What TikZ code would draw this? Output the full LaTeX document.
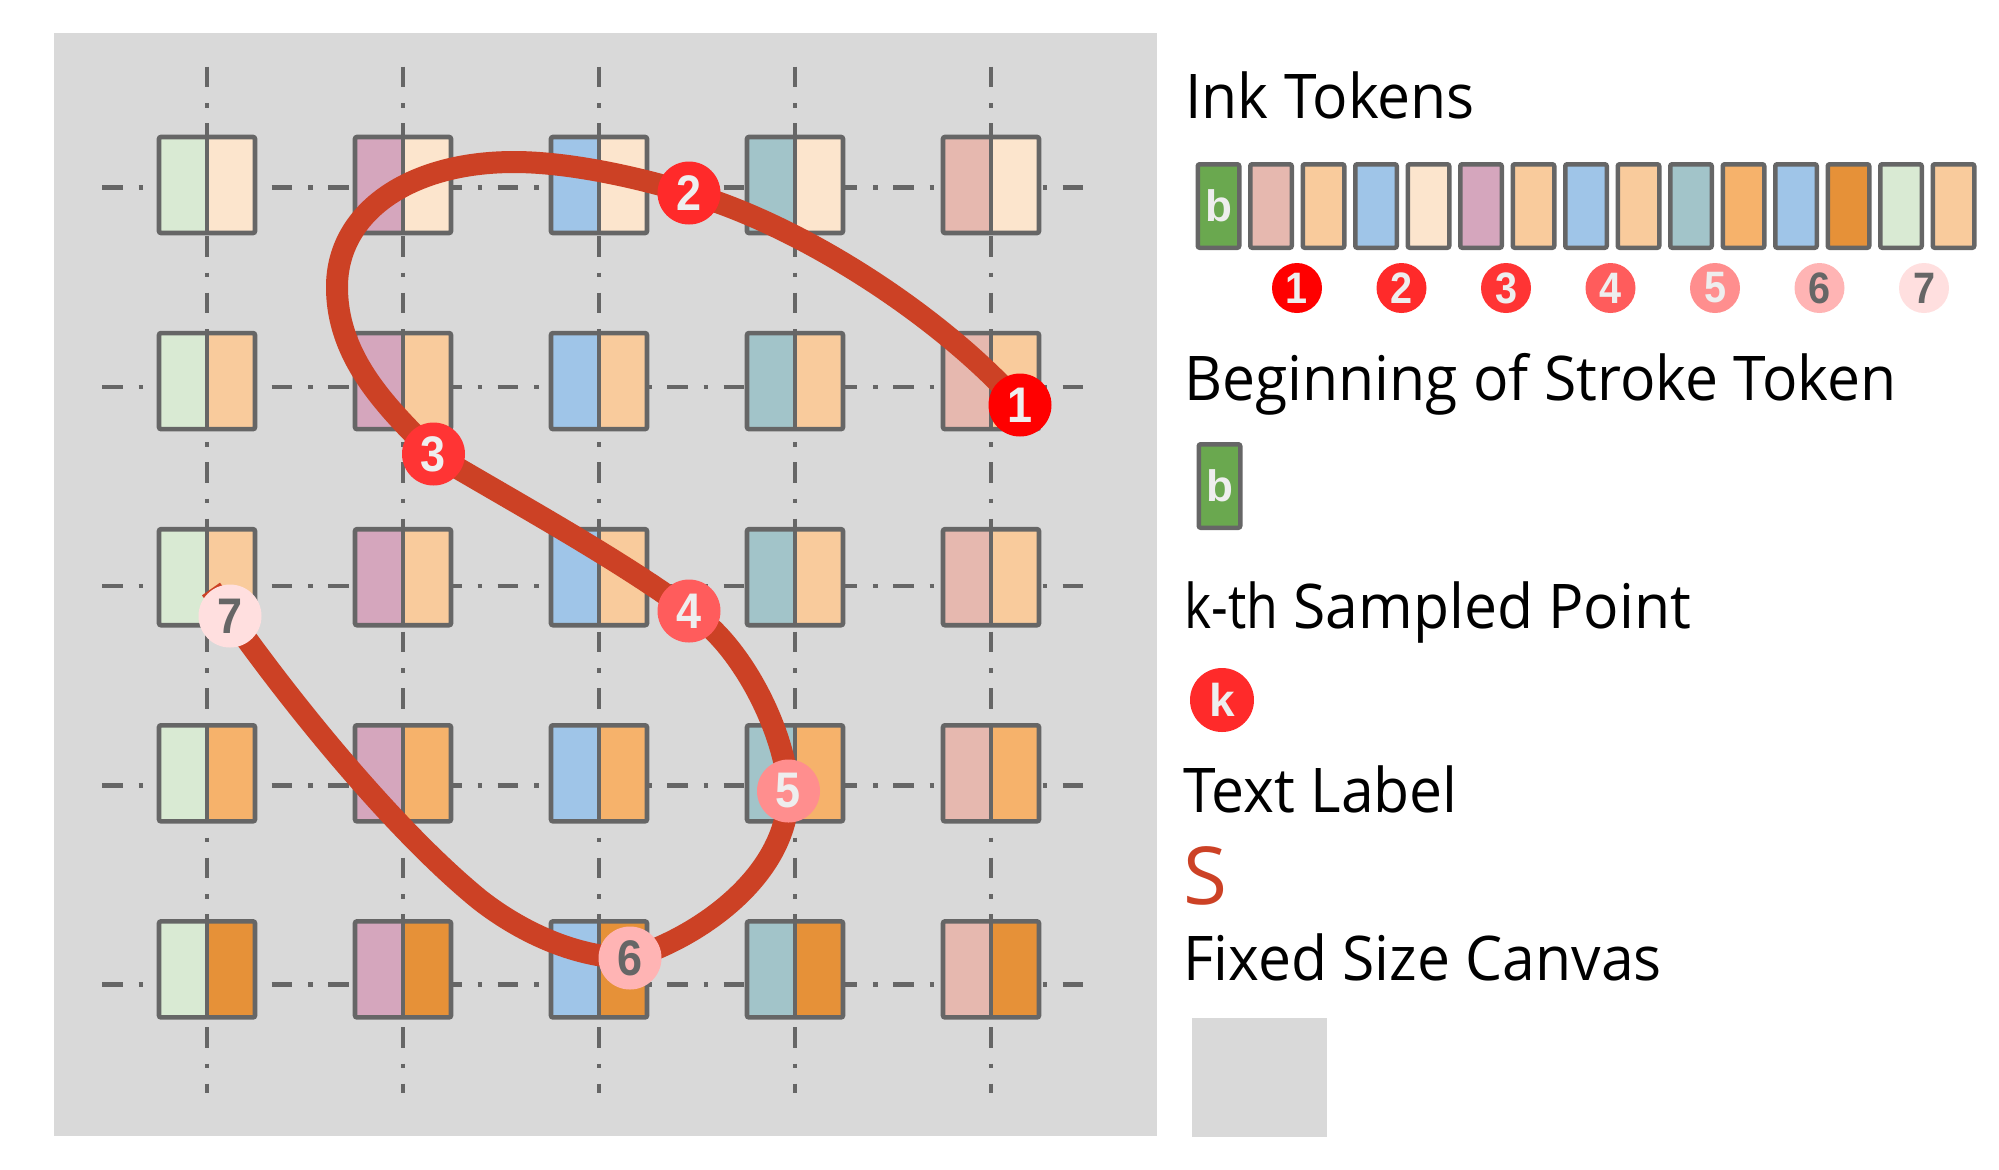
\documentclass[tikz,border=0pt]{standalone}
\usepackage{fontspec}
\setmainfont{Open Sans}
\newfontfamily\badgefont{Liberation Sans}
\definecolor{canvasgray}{HTML}{D9D9D9}
\definecolor{linegray}{HTML}{666666}
\definecolor{strokered}{HTML}{CC4125}
\definecolor{cgreen}{HTML}{D9EAD3}
\definecolor{cpurple}{HTML}{D5A6BD}
\definecolor{cblue}{HTML}{9FC5E8}
\definecolor{cteal}{HTML}{A2C4C9}
\definecolor{cpink}{HTML}{E6B8AF}
\definecolor{oA}{HTML}{FCE5CD}
\definecolor{oB}{HTML}{F9CB9C}
\definecolor{oC}{HTML}{F6B26B}
\definecolor{oD}{HTML}{E69138}
\definecolor{bgreen}{HTML}{6AA84F}
\definecolor{kA}{HTML}{FF0000}
\definecolor{kB}{HTML}{FF2A2A}
\definecolor{kC}{HTML}{FF3434}
\definecolor{kD}{HTML}{FF5C5C}
\definecolor{kE}{HTML}{FF8E8E}
\definecolor{kF}{HTML}{FFB4B4}
\definecolor{kG}{HTML}{FFDFDF}
\definecolor{wtext}{HTML}{EEEEEE}
\newcommand{\hd}[1]{\scalebox{0.955}[1]{#1}}
\newcommand{\bd}[1]{\scalebox{0.9}[1]{#1}}
\tikzset{
  gridln/.style={draw=linegray, line width=2.3pt, dash pattern=on 10.25pt off 8pt on 2.25pt off 7.75pt},
  cellframe/.style={draw=linegray, line width=2.3pt, rounded corners=1pt},
  tokbox/.style={draw=linegray, line width=2.25pt, rounded corners=1pt, minimum width=20.75pt, minimum height=41.75pt, inner sep=0pt},
  badge/.style={circle, inner sep=0pt, minimum size=31.5pt, font=\badgefont\bfseries\fontsize{25}{26}\selectfont, text=wtext},
  lbadge/.style={circle, inner sep=0pt, minimum size=25pt, font=\badgefont\bfseries\fontsize{22}{23}\selectfont, text=wtext},
  heading/.style={anchor=base west, inner sep=0pt, font=\fontsize{30.8}{36}\selectfont},
  inkstroke/.style={draw=strokered, line width=11pt, line join=round, line cap=butt},
}
\begin{document}
\begin{tikzpicture}[x=0.5pt, y=-0.5pt]
\useasboundingbox (0,0) rectangle (1999,1169);
% canvas
\fill[canvasgray] (54,33) rectangle (1157,1136);
% grid lines
\foreach \gx in {207,403,599,795,991} {
  \draw[gridln] (\gx,66.7) -- (\gx,1093);
}
\foreach \gy in {187.7,386.9,586.1,785.3,984.5} {
  \draw[gridln] (102,\gy) -- (1096,\gy);
}
% cells
\foreach \gx/\lc in {207/cgreen,403/cpurple,599/cblue,795/cteal,991/cpink} {
  \foreach \gy/\rc in {185/oA,381.1/oB,577.2/oB,773.3/oC,969.4/oD} {
    \fill[\lc] (\gx-48,\gy-48) rectangle (\gx,\gy+48);
    \fill[\rc] (\gx,\gy-48) rectangle (\gx+48,\gy+48);
    \draw[cellframe] (\gx-48,\gy-48) rectangle (\gx+48,\gy+48);
    \draw[linegray, line width=2.3pt] (\gx,\gy-48) -- (\gx,\gy+48);
  }
}
% sampled points
\coordinate (p1) at (1020,405);
\coordinate (p2) at (689,193);
\coordinate (p3) at (433.5,454);
\coordinate (p4) at (689,611);
\coordinate (p5) at (788.5,791);
\coordinate (p6) at (630,958);
\coordinate (p7) at (230,616);
\coordinate (ptop) at (514,162);
\coordinate (pleft) at (337,287);
\coordinate (pturn) at (480,900);
\coordinate (pend) at (211,589);
% ink stroke
\draw[inkstroke] (p1) .. controls (940,315) and (800,225) .. (p2)
  .. controls (640,178) and (570,162) .. (ptop)
  .. controls (410,162) and (337,212) .. (pleft)
  .. controls (337,360) and (390,410) .. (p3)
  .. controls (520,505) and (620,560) .. (p4)
  .. controls (740,642) and (785,730) .. (p5)
  .. controls (788.5,880) and (690,941) .. (p6)
  .. controls (580,958) and (525,935) .. (pturn)
  .. controls (400,835) and (300,715) .. (p7)
  -- (pend);
\node[badge, fill=kA] (n1) at (p1) {\bd{1}};
\node[badge, fill=kB] (n2) at (p2) {\bd{2}};
\node[badge, fill=kC] (n3) at (p3) {\bd{3}};
\node[badge, fill=kD] (n4) at (p4) {\bd{4}};
\node[badge, fill=kE] (n5) at (p5) {\bd{5}};
\node[badge, fill=kF, text=linegray] (n6) at (p6) {\bd{6}};
\node[badge, fill=kG, text=linegray] (n7) at (p7) {\bd{7}};
% legend: ink tokens
\node[heading] (tInk) at (1185,118) {\hd{Ink Tokens}};
\foreach \col [count=\i from 0] in {bgreen,cpink,oB,cblue,oA,cpurple,oB,cblue,oB,cteal,oC,cblue,oD,cgreen,oB} {
  \node[tokbox, fill=\col] (tok\i) at (1218.5+52.5*\i,206) {};
}
\node[text=wtext, font=\badgefont\bfseries\fontsize{22}{24}\selectfont, inner sep=0pt] (tokb) at (tok0) {b};
\node[lbadge, fill=kA] (l1) at (1297,288) {\bd{1}};
\node[lbadge, fill=kB] (l2) at (1401.5,288) {\bd{2}};
\node[lbadge, fill=kC] (l3) at (1506,288) {\bd{3}};
\node[lbadge, fill=kD] (l4) at (1610.5,288) {\bd{4}};
\node[lbadge, fill=kE] (l5) at (1715,288) {\bd{5}};
\node[lbadge, fill=kF, text=linegray] (l6) at (1819.5,288) {\bd{6}};
\node[lbadge, fill=kG, text=linegray] (l7) at (1924,288) {\bd{7}};
% legend: beginning of stroke
\node[heading] (tBeg) at (1184,400) {\hd{Beginning of Stroke Token}};
\node[tokbox, fill=bgreen] (bleg) at (1219.5,486) {};
\node[text=wtext, font=\badgefont\bfseries\fontsize{22}{24}\selectfont, inner sep=0pt] (blegt) at (bleg) {b};
% legend: k-th sampled point
\node[heading] (tK) at (1184,628) {\hd{\scalebox{0.88}[1]{k-th} Sampled Point}};
\node[badge, fill=kB, minimum size=32pt, font=\badgefont\bfseries\fontsize{23}{24}\selectfont] (kleg) at (1222,700) {k};
% legend: text label
\node[heading] (tTxt) at (1183,812) {\hd{Text Label}};
\node[anchor=base west, inner sep=0pt, text=strokered, font=\fontsize{40}{44}\selectfont] (sLab) at (1183,904) {S};
% legend: fixed size canvas
\node[heading] (tFix) at (1183,980) {\hd{Fixed Size Canvas}};
\fill[canvasgray] (1192,1018) rectangle (1327,1137);
\end{tikzpicture}
\end{document}
